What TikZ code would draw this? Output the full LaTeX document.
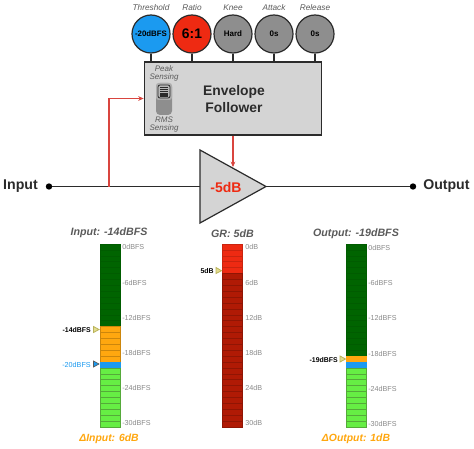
\documentclass[tikz,border=0pt]{standalone}
\usepackage{fontspec}
\usetikzlibrary{arrows.meta}
\setmainfont{Liberation Sans}
\definecolor{dkgreen}{HTML}{006400}
\definecolor{ltgreen}{HTML}{66EE44}
\definecolor{mgreen}{HTML}{55AA3A}
\definecolor{orng}{HTML}{FFA70F}
\definecolor{blu}{HTML}{1B9AF0}
\definecolor{brred}{HTML}{EE2A12}
\definecolor{dkred}{HTML}{B01A05}
\definecolor{ink}{HTML}{2B2B2B}
\definecolor{boxgray}{HTML}{D4D4D4}
\definecolor{knobgray}{HTML}{8E8E8E}
\definecolor{sigred}{HTML}{D9453F}
\definecolor{titlegray}{HTML}{5A5A5A}
\definecolor{scalegray}{HTML}{8A8A8A}
\definecolor{marky}{HTML}{E8E070}
\newcommand{\fsz}[1]{\fontsize{#1}{#1}\selectfont}
\newcommand{\segs}[5]{% x, first, last (seg index), fill, line
  \foreach \i in {#2,...,#3}{
    \fill[#4,draw=#5,line width=0.35pt] (#1,{244+5.9*\i}) rectangle ({#1+20},{244+5.9*(\i+1)});
  }}
\begin{document}
\begin{tikzpicture}[x=0.75pt,y=-0.75pt,
  knob/.style={circle,draw=ink,line width=0.9pt,minimum size=28.5pt,inner sep=0pt,font=\bfseries\fsz{6}},
  ctl/.style={font=\itshape\fsz{6.2},text=titlegray,inner sep=0pt},
  sw/.style={font=\itshape\fsz{6},text=titlegray,align=center,inner sep=0pt},
  wire/.style={ink,line width=0.9pt},
  sig/.style={sigred,line width=0.9pt,-{Stealth[length=4pt,width=3.5pt]}},
  dot/.style={circle,fill=black,minimum size=4.8pt,inner sep=0pt},
  io/.style={font=\bfseries\fsz{10.6},text=ink,inner sep=0pt},
  title/.style={font=\itshape\bfseries\fsz{8},text=titlegray,inner sep=0pt},
  delta/.style={font=\itshape\bfseries\fsz{7.8},text=orng,inner sep=0pt},
  scalelab/.style={font=\fsz{5.4},text=scalegray,anchor=west,inner sep=0pt},
  marktxt/.style={font=\bfseries\fsz{5.2},anchor=east,inner sep=0pt},
]
\useasboundingbox (0,0) rectangle (474,449);
\fill[white] (0,0) rectangle (474,449);

% signal line
\node[dot] (in) at (49,186.5) {};
\node[dot] (out) at (413,186.5) {};
\node[io,anchor=east] (inlab) at (38,186) {Input};
\node[io,anchor=west] (outlab) at (423,186) {Output};
\coordinate (ampL) at (200,186.5);
\coordinate (ampR) at (266,186.5);
\coordinate (tap) at (109,186.5);
\coordinate (ampTop) at (233,167);
\draw[wire] (in) -- (ampL);
\draw[wire] (ampR) -- (out);
\filldraw[fill=boxgray,draw=ink,line width=0.9pt,line join=miter] (200,150) -- (266,186.5) -- (200,223) -- cycle;
\node[font=\bfseries\fsz{10.5},text=brred,inner sep=0pt] (gain) at (226,187) {-5dB};

% envelope follower
\node[draw=ink,fill=boxgray,line width=1.1pt,minimum width=133pt,minimum height=54.5pt,inner sep=0pt] (env) at (233,98.5) {};
\node[font=\bfseries\fsz{10.4},text=ink,align=center,inner sep=0pt] (envt) at (234,99.5) {Envelope\\[2.3pt]Follower};
\coordinate (envLeft) at (env.west);
\coordinate (envBot) at (env.south);

% switch
\fill[knobgray,rounded corners=3pt] (156,83) rectangle (172,115);
\fill[boxgray!45!knobgray,rounded corners=2pt] (156,83) rectangle (172,100);
\filldraw[fill=boxgray!60!knobgray,draw=ink,line width=0.6pt,rounded corners=1.5pt] (158,85) rectangle (170,98);
\foreach \yy in {87.5,89.7,91.9,94.1,96.0}{
  \draw[ink,line width=0.9pt] (160,\yy) -- (168,\yy);
}
\node[sw] (peak) at (164,73.5) {Peak\\Sensing};
\node[sw] (rms) at (164,124.5) {RMS\\Sensing};

% knobs
\node[knob,fill=blu,font=\bfseries\fsz{5.9}] (k1) at (151,34) {-20dBFS};
\node[knob,fill=brred,font=\bfseries\fsz{10.4}] (k2) at (192,34) {6:1};
\node[knob,fill=knobgray] (k3) at (233,34) {Hard};
\node[knob,fill=knobgray] (k4) at (274,34) {0s};
\node[knob,fill=knobgray] (k5) at (315,34) {0s};
\node[ctl] at (151,8) {Threshold};
\node[ctl] at (192,8) {Ratio};
\node[ctl] at (233,8) {Knee};
\node[ctl] at (274,8) {Attack};
\node[ctl] at (315,8) {Release};
\foreach \k in {1,...,5}{
  \draw[wire] (k\k.south) -- (k\k.south |- env.north);
}

% control signals
\draw[sig] (tap) |- (envLeft);
\draw[sig] (envBot) -- (ampTop);

% input meter
\node[title] at (109,233) {Input: -14dBFS};
\segs{100}{0}{13}{dkgreen}{dkgreen!92!black}
\segs{100}{14}{19}{orng}{orng!80!black}
\segs{100}{20}{20}{blu}{blu}
\segs{100}{21}{30}{ltgreen}{mgreen}
\foreach \v/\t in {0/0dBFS,6/-6dBFS,12/-12dBFS,18/-18dBFS,24/-24dBFS,30/-30dBFS}{
  \node[scalelab] at (122,{247.3+5.87*\v}) {\t};
}
\node[marktxt] at (91,330) {-14dBFS};
\filldraw[fill=boxgray!30!marky,draw=marky!80!black,line width=0.6pt] (93.5,326.5) -- (99,329.5) -- (93.5,332.5) -- cycle;
\node[marktxt,text=blu,font=\fsz{5.4}] at (91,365) {-20dBFS};
\filldraw[fill=blu,draw=titlegray,line width=0.5pt] (93.5,361) -- (99,364) -- (93.5,367) -- cycle;
\node[delta] at (109,438.5) {ΔInput: 6dB};

% GR meter
\node[title] at (232.5,233.5) {GR: 5dB};
\segs{222.3}{0}{4}{brred}{brred!85!black}
\segs{222.3}{5}{30}{dkred}{dkred!82!black}
\foreach \v/\t in {0/0dB,6/6dB,12/12dB,18/18dB,24/24dB,30/30dB}{
  \node[scalelab] at (245,{247.3+5.87*\v}) {\t};
}
\node[marktxt] at (214,271.5) {5dB};
\filldraw[fill=boxgray!30!marky,draw=marky!80!black,line width=0.6pt] (216,267.5) -- (221.5,270.7) -- (216,273.5) -- cycle;

% output meter
\node[title] at (356,233.5) {Output: -19dBFS};
\segs{346}{0}{18}{dkgreen}{dkgreen!92!black}
\segs{346}{19}{19}{orng}{orng}
\segs{346}{20}{20}{blu}{blu}
\segs{346}{21}{30}{ltgreen}{mgreen}
\foreach \v/\t in {0/0dBFS,6/-6dBFS,12/-12dBFS,18/-18dBFS,24/-24dBFS,30/-30dBFS}{
  \node[scalelab] at (368,{247.8+5.87*\v}) {\t};
}
\node[marktxt] at (338,360) {-19dBFS};
\filldraw[fill=boxgray!30!marky,draw=marky!80!black,line width=0.6pt] (340,356) -- (345.5,359) -- (340,362) -- cycle;
\node[delta] at (356,438.5) {ΔOutput: 1dB};
\end{tikzpicture}
\end{document}
